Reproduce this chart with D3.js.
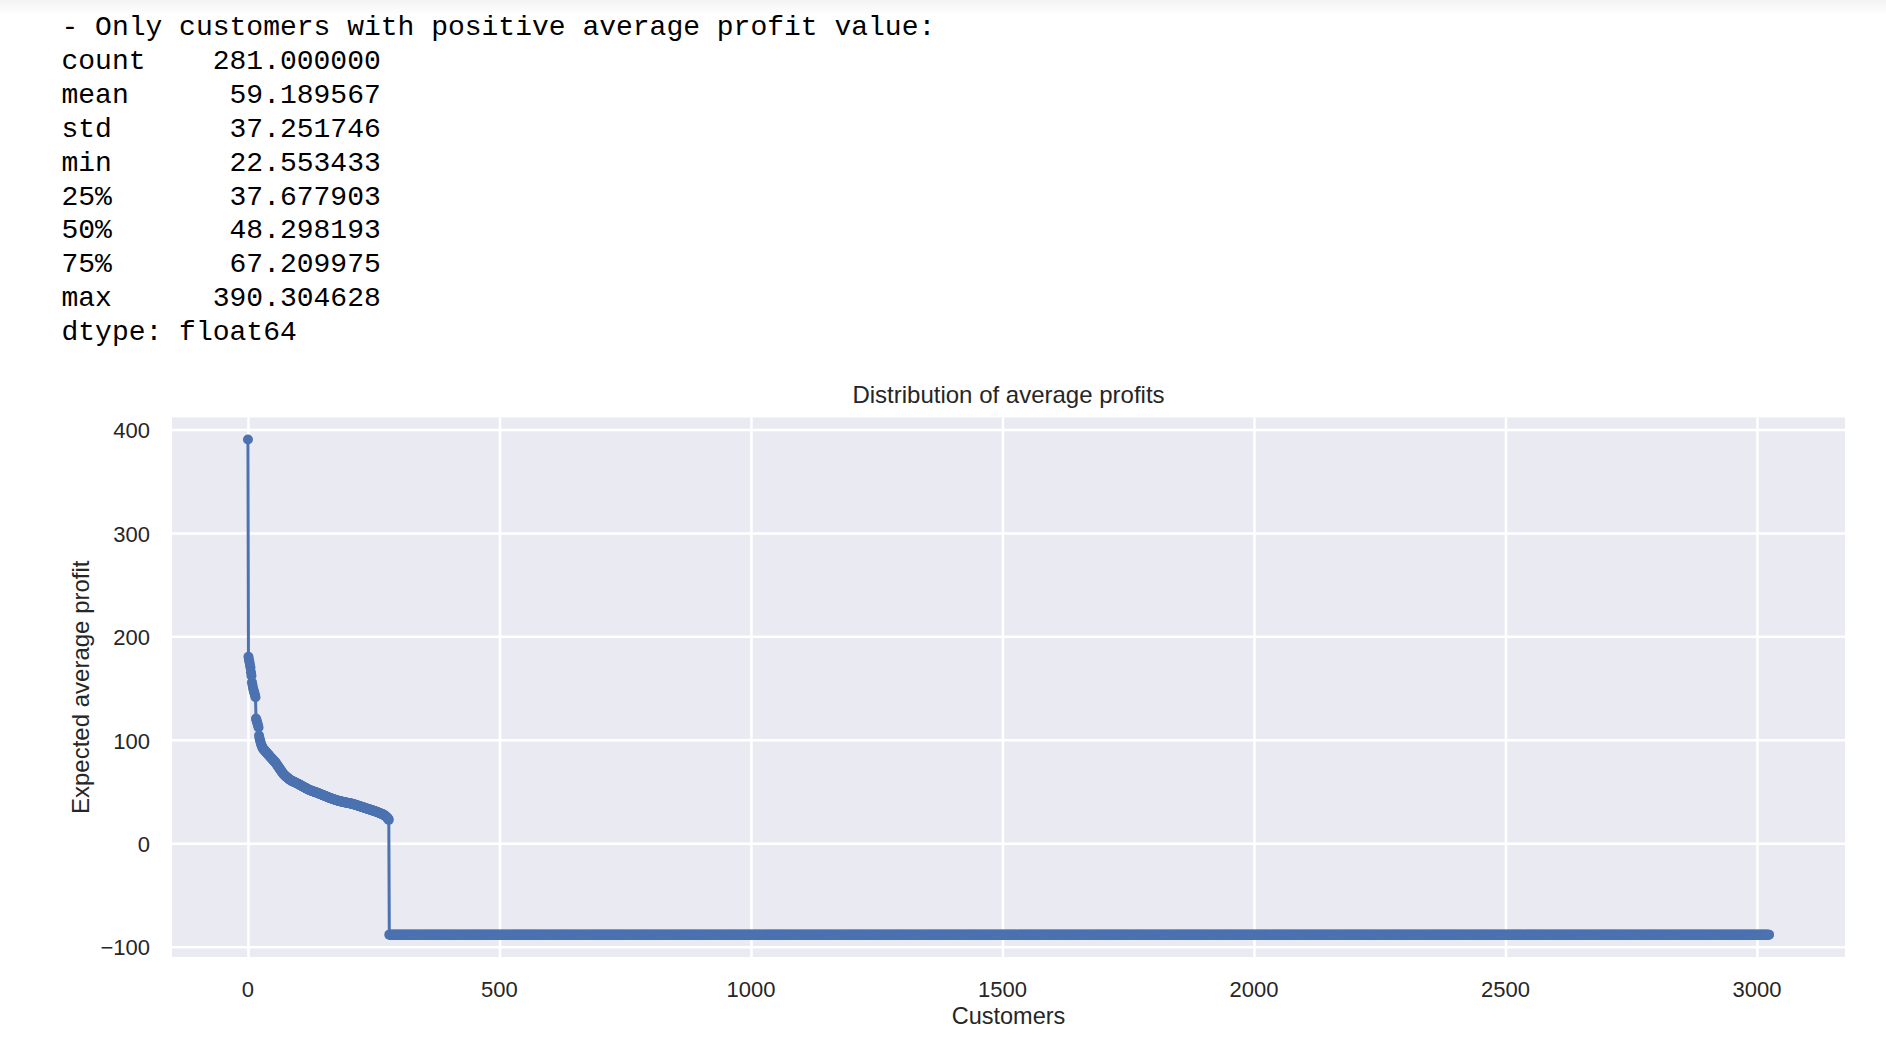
<!DOCTYPE html>
<html>
<head>
<meta charset="utf-8">
<script src="https://cdn.jsdelivr.net/npm/d3@7"></script>
<style>
  body { margin: 0; background: #fff; }
  .mono { font-family: "Courier New", Courier, "Liberation Mono", monospace; white-space: pre; }
  .sans { font-family: Arial, "Liberation Sans", Helvetica, sans-serif; }
</style>
</head>
<body>
<div id="chart"></div>
<script>
// Printed summary above the chart
const summaryLines = [
  "- Only customers with positive average profit value:",
  "count    281.000000",
  "mean      59.189567",
  "std       37.251746",
  "min       22.553433",
  "25%       37.677903",
  "50%       48.298193",
  "75%       67.209975",
  "max      390.304628",
  "dtype: float64"
];

// Sorted expected average profit, customers with positive value (281)
const positiveProfits = [
  390.3,
  180.2, 177.5, 175.1, 172.4, 169.8, 165.3, 162.0, 155.6, 153.1, 150.4, 148.2, 146.5, 144.9, 143.0, 141.2,
  120.5, 118.9, 117.3, 115.6, 113.8, 111.9,
  104.2, 101.5, 99.6, 97.8, 96.0, 94.7, 93.5, 92.4, 91.4,
  90.9, 90.3, 89.8, 89.2, 88.7, 88.1, 87.6, 87.0, 86.5, 85.9, 85.4, 84.8, 84.3, 83.7, 83.2, 82.6, 82.1, 81.6, 81.0, 80.5, 79.9, 79.4, 78.9, 78.4, 77.9,
  77.2, 76.4, 75.7, 75.0, 74.3, 73.6, 72.8, 72.1, 71.4, 70.7, 70.0, 69.3, 68.6, 67.9, 67.2,
  66.7, 66.2, 65.7, 65.2, 64.8, 64.3, 63.9, 63.5, 63.1, 62.7, 62.3, 61.9, 61.6, 61.2, 60.9, 60.6, 60.3, 60.0,
  59.8, 59.6, 59.4, 59.2, 58.9, 58.7, 58.5, 58.2, 58.0, 57.7, 57.5, 57.2, 57.0, 56.7, 56.5, 56.2, 55.9, 55.7, 55.4, 55.1, 54.9, 54.6, 54.3, 54.1, 53.8, 53.5, 53.3, 53.0, 52.8, 52.5, 52.2, 52.0, 51.7,
  51.5, 51.3, 51.1, 50.9, 50.8, 50.6, 50.4, 50.2, 50.0, 49.8, 49.7, 49.5, 49.3, 49.2, 49.0, 48.8, 48.7, 48.5, 48.3,
  48.1, 47.9, 47.7, 47.5, 47.3, 47.1, 46.9, 46.7, 46.5, 46.3, 46.1, 45.9, 45.7, 45.5, 45.3, 45.1, 44.9, 44.7, 44.5, 44.3, 44.1, 43.9, 43.7, 43.5, 43.4, 43.2, 43.0, 42.8, 42.7, 42.5, 42.3, 42.2, 42.0, 41.9, 41.7, 41.6, 41.4, 41.3, 41.1, 41.0, 40.9, 40.7, 40.6, 40.5, 40.4, 40.3, 40.1, 40.0,
  39.9, 39.8, 39.7, 39.6, 39.5, 39.4, 39.3, 39.2, 39.1, 39.0, 38.9, 38.8, 38.7, 38.6, 38.5, 38.4, 38.3, 38.2, 38.1, 37.9, 37.8, 37.7,
  37.5, 37.4, 37.2, 37.1, 36.9, 36.8, 36.6, 36.4, 36.3, 36.1, 36.0, 35.8, 35.6, 35.5, 35.3, 35.2, 35.0, 34.8, 34.7, 34.5, 34.4, 34.2, 34.0, 33.9, 33.7, 33.6, 33.4, 33.2, 33.1, 32.9, 32.8, 32.6, 32.4, 32.3, 32.1, 32.0, 31.8, 31.6, 31.5, 31.3, 31.2, 31.0, 30.9, 30.7,
  30.5, 30.3, 30.1, 29.9, 29.7, 29.5, 29.3, 29.1, 28.9, 28.7, 28.5, 28.3, 28.1, 27.9, 27.7, 27.4, 27.1, 26.8, 26.4, 26.0, 25.6, 25.1, 24.6, 24.0, 23.3, 22.6
];

// All remaining customers sit on the same flat negative value
const negativeProfit = -88.4;
const negativeCount = 2744;

const xTicks = [0, 500, 1000, 1500, 2000, 2500, 3000];
const yTicks = [-100, 0, 100, 200, 300, 400];
const xLimits = [-151, 3175];
const yLimits = [-110, 411.6];

const W = 1886, H = 1044;
const plot = {left: 172, right: 1845, top: 417.5, bottom: 957};
const blue = "#4c72b0";

const profits = positiveProfits.concat(d3.range(negativeCount).map(() => negativeProfit));
const points = profits.map((v, i) => ({i: i, v: v}));

const svg = d3.select("#chart")
  .append("svg")
    .attr("width", W)
    .attr("height", H);

// faint cell shadow at the top
const grad = svg.append("defs").append("linearGradient")
    .attr("id", "topShade").attr("x1", 0).attr("x2", 0).attr("y1", 0).attr("y2", 1);
grad.append("stop").attr("offset", "0%").attr("stop-color", "#f3f3f3");
grad.append("stop").attr("offset", "100%").attr("stop-color", "#ffffff");
svg.append("rect").attr("width", W).attr("height", 15).attr("fill", "url(#topShade)");

// summary text (keep the pandas spacing)
svg.append("g")
  .selectAll("text")
  .data(summaryLines)
  .enter().append("text")
    .attr("class", "mono")
    .attr("xml:space", "preserve")
    .style("white-space", "pre")
    .attr("x", 61.5)
    .attr("y", (d, i) => 35 + i * 33.9)
    .attr("font-size", 28)
    .attr("fill", "#000")
    .text(d => d);

// scales
const x = d3.scaleLinear().domain(xLimits).range([plot.left, plot.right]);
const y = d3.scaleLinear().domain(yLimits).range([plot.bottom, plot.top]);

// background
svg.append("rect")
    .attr("x", plot.left)
    .attr("y", plot.top)
    .attr("width", plot.right - plot.left)
    .attr("height", plot.bottom - plot.top)
    .attr("fill", "#eaeaf2");

// grid
svg.append("g")
    .attr("transform", `translate(0,${plot.bottom})`)
    .call(d3.axisBottom(x).tickValues(xTicks).tickSize(-(plot.bottom - plot.top)).tickFormat(""))
    .call(g => g.select(".domain").remove())
    .call(g => g.selectAll("line").attr("stroke", "#fff").attr("stroke-width", 2.5));

svg.append("g")
    .attr("transform", `translate(${plot.left},0)`)
    .call(d3.axisLeft(y).tickValues(yTicks).tickSize(-(plot.right - plot.left)).tickFormat(""))
    .call(g => g.select(".domain").remove())
    .call(g => g.selectAll("line").attr("stroke", "#fff").attr("stroke-width", 2.5));

// tick labels
const fmt = d => d < 0 ? "\u2212" + Math.abs(d) : String(d);

svg.append("g")
    .attr("class", "sans")
  .selectAll("text")
  .data(xTicks)
  .enter().append("text")
    .attr("x", d => x(d))
    .attr("y", 996.5)
    .attr("text-anchor", "middle")
    .attr("font-size", 22)
    .attr("fill", "#262626")
    .text(fmt);

svg.append("g")
    .attr("class", "sans")
  .selectAll("text")
  .data(yTicks)
  .enter().append("text")
    .attr("x", 150)
    .attr("y", d => y(d))
    .attr("dy", "0.4em")
    .attr("text-anchor", "end")
    .attr("font-size", 22)
    .attr("fill", "#262626")
    .text(fmt);

// line with markers
const line = d3.line()
    .x(d => x(d.i))
    .y(d => y(d.v));

svg.append("path")
    .datum(points)
    .attr("fill", "none")
    .attr("stroke", blue)
    .attr("stroke-width", 3)
    .attr("stroke-linejoin", "round")
    .attr("d", line);

svg.append("g")
  .selectAll("circle")
  .data(points)
  .enter().append("circle")
    .attr("cx", d => x(d.i))
    .attr("cy", d => y(d.v))
    .attr("r", 5)
    .attr("fill", blue);

// title and axis labels
svg.append("text")
    .attr("class", "sans")
    .attr("x", (plot.left + plot.right) / 2)
    .attr("y", 403)
    .attr("text-anchor", "middle")
    .attr("font-size", 24)
    .attr("fill", "#262626")
    .text("Distribution of average profits");

svg.append("text")
    .attr("class", "sans")
    .attr("x", (plot.left + plot.right) / 2)
    .attr("y", 1024)
    .attr("text-anchor", "middle")
    .attr("font-size", 23.5)
    .attr("fill", "#262626")
    .text("Customers");

svg.append("text")
    .attr("class", "sans")
    .attr("transform", `translate(88.5,${(plot.top + plot.bottom) / 2}) rotate(-90)`)
    .attr("text-anchor", "middle")
    .attr("font-size", 24)
    .attr("fill", "#262626")
    .text("Expected average profit");
</script>
</body>
</html>
